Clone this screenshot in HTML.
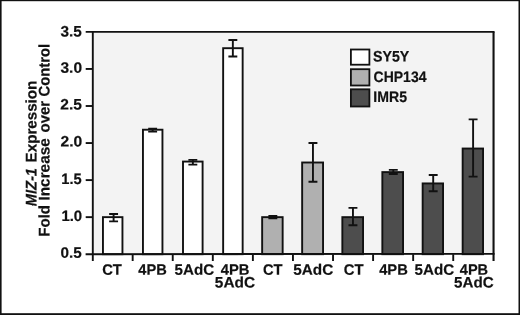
<!DOCTYPE html>
<html lang="en"><head><meta charset="utf-8"><title>MIZ-1 Expression</title>
<style>html,body{margin:0;padding:0;background:#fff;overflow:hidden}svg{display:block}text{font-family:"Liberation Sans", Arial, Helvetica, sans-serif;font-weight:bold;fill:#111;stroke:#111;stroke-width:0.20px}</style></head><body>
<svg width="520" height="315" viewBox="0 0 520 315">
<rect x="0" y="0" width="520" height="315" fill="#fff"/>
<rect x="0" y="0" width="520" height="1.2" fill="#111"/>
<rect x="0" y="313.2" width="520" height="1.8" fill="#111"/>
<rect x="0" y="0" width="1.6" height="315" fill="#111"/>
<rect x="518.5" y="0" width="1.5" height="315" fill="#111"/>
<rect x="92.80" y="31.90" width="400.75" height="222.30" fill="#f3f3f3"/>
<rect x="102.95" y="217.15" width="19.50" height="37.05" fill="#ffffff" stroke="#111" stroke-width="1.90"/>
<path d="M113.60 214.00V221.40M109.15 214.00H118.05M109.15 221.40H118.05" stroke="#111" stroke-width="1.9" fill="none"/>
<rect x="142.95" y="129.71" width="19.50" height="124.49" fill="#ffffff" stroke="#111" stroke-width="1.90"/>
<path d="M152.65 128.80V131.60M148.20 128.80H157.10M148.20 131.60H157.10" stroke="#111" stroke-width="1.9" fill="none"/>
<rect x="183.00" y="161.57" width="19.60" height="92.62" fill="#ffffff" stroke="#111" stroke-width="1.90"/>
<path d="M192.85 159.90V164.60M188.40 159.90H197.30M188.40 164.60H197.30" stroke="#111" stroke-width="1.9" fill="none"/>
<rect x="223.15" y="48.20" width="19.50" height="206.00" fill="#ffffff" stroke="#111" stroke-width="1.90"/>
<path d="M232.85 40.00V56.50M228.40 40.00H237.30M228.40 56.50H237.30" stroke="#111" stroke-width="1.9" fill="none"/>
<rect x="262.15" y="217.15" width="20.50" height="37.05" fill="#b0b0b0" stroke="#111" stroke-width="1.90"/>
<path d="M272.85 216.00V218.20M268.40 216.00H277.30M268.40 218.20H277.30" stroke="#111" stroke-width="1.9" fill="none"/>
<rect x="302.15" y="162.50" width="20.90" height="91.70" fill="#b0b0b0" stroke="#111" stroke-width="1.90"/>
<path d="M312.95 143.00V181.80M308.50 143.00H317.40M308.50 181.80H317.40" stroke="#111" stroke-width="1.9" fill="none"/>
<rect x="342.35" y="217.15" width="20.70" height="37.05" fill="#4d4d4d" stroke="#111" stroke-width="1.90"/>
<path d="M352.95 207.90V225.30M348.50 207.90H357.40M348.50 225.30H357.40" stroke="#111" stroke-width="1.9" fill="none"/>
<rect x="382.35" y="172.10" width="20.70" height="82.10" fill="#4d4d4d" stroke="#111" stroke-width="1.90"/>
<path d="M393.30 169.90V174.00M388.85 169.90H397.75M388.85 174.00H397.75" stroke="#111" stroke-width="1.9" fill="none"/>
<rect x="422.65" y="183.43" width="20.40" height="70.77" fill="#4d4d4d" stroke="#111" stroke-width="1.90"/>
<path d="M433.20 175.00V191.20M428.75 175.00H437.65M428.75 191.20H437.65" stroke="#111" stroke-width="1.9" fill="none"/>
<rect x="462.65" y="148.53" width="20.40" height="105.67" fill="#4d4d4d" stroke="#111" stroke-width="1.90"/>
<path d="M473.10 119.40V176.60M468.65 119.40H477.55M468.65 176.60H477.55" stroke="#111" stroke-width="1.9" fill="none"/>
<path d="M85.70 31.90H494.55" stroke="#111" stroke-width="1.9" fill="none"/>
<path d="M493.55 31.90V261.00" stroke="#111" stroke-width="2.1" fill="none"/>
<path d="M92.80 31.90V261.00" stroke="#111" stroke-width="1.9" fill="none"/>
<path d="M85.60 254.20L494.55 253.85" stroke="#111" stroke-width="1.9" fill="none"/>
<path d="M85.7 217.15H92.80" stroke="#111" stroke-width="1.9"/>
<path d="M85.7 180.10H92.80" stroke="#111" stroke-width="1.9"/>
<path d="M85.7 143.05H92.80" stroke="#111" stroke-width="1.9"/>
<path d="M85.7 106.00H92.80" stroke="#111" stroke-width="1.9"/>
<path d="M85.7 68.95H92.80" stroke="#111" stroke-width="1.9"/>
<path d="M132.67 254.20V261.0" stroke="#111" stroke-width="1.9"/>
<path d="M172.74 254.20V261.0" stroke="#111" stroke-width="1.9"/>
<path d="M212.81 254.20V261.0" stroke="#111" stroke-width="1.9"/>
<path d="M252.88 254.20V261.0" stroke="#111" stroke-width="1.9"/>
<path d="M292.95 254.20V261.0" stroke="#111" stroke-width="1.9"/>
<path d="M333.02 254.20V261.0" stroke="#111" stroke-width="1.9"/>
<path d="M373.09 254.20V261.0" stroke="#111" stroke-width="1.9"/>
<path d="M413.16 254.20V261.0" stroke="#111" stroke-width="1.9"/>
<path d="M453.23 254.20V261.0" stroke="#111" stroke-width="1.9"/>
<rect x="350.90" y="49.50" width="18.50" height="15.20" fill="#ffffff" stroke="#111" stroke-width="1.8"/>
<rect x="350.90" y="69.20" width="18.50" height="16.30" fill="#b0b0b0" stroke="#111" stroke-width="1.8"/>
<rect x="350.90" y="89.30" width="18.50" height="17.20" fill="#4d4d4d" stroke="#111" stroke-width="1.8"/>
<text transform="rotate(0.03 71.21 257.70)" x="60.62" y="257.70" font-size="15.10" textLength="21.18" lengthAdjust="spacingAndGlyphs">0.5</text>
<text transform="rotate(0.03 71.76 221.10)" x="61.38" y="221.10" font-size="15.10" textLength="20.78" lengthAdjust="spacingAndGlyphs">1.0</text>
<text transform="rotate(0.03 71.53 183.90)" x="61.34" y="183.90" font-size="15.10" textLength="20.39" lengthAdjust="spacingAndGlyphs">1.5</text>
<text transform="rotate(0.03 71.31 146.50)" x="60.45" y="146.50" font-size="15.10" textLength="21.72" lengthAdjust="spacingAndGlyphs">2.0</text>
<text transform="rotate(0.03 71.18 109.50)" x="60.39" y="109.50" font-size="15.10" textLength="21.58" lengthAdjust="spacingAndGlyphs">2.5</text>
<text transform="rotate(0.03 71.28 72.70)" x="60.52" y="72.70" font-size="15.10" textLength="21.51" lengthAdjust="spacingAndGlyphs">3.0</text>
<text transform="rotate(0.03 71.14 36.40)" x="60.48" y="36.40" font-size="15.10" textLength="21.32" lengthAdjust="spacingAndGlyphs">3.5</text>
<text transform="rotate(0.03 112.00 274.65)" x="102.16" y="274.65" font-size="15.10" textLength="19.67" lengthAdjust="spacingAndGlyphs">CT</text>
<text transform="rotate(0.03 152.53 274.65)" x="138.30" y="274.65" font-size="15.10" textLength="28.46" lengthAdjust="spacingAndGlyphs">4PB</text>
<text transform="rotate(0.03 194.32 274.65)" x="174.54" y="274.65" font-size="15.10" textLength="39.55" lengthAdjust="spacingAndGlyphs">5AdC</text>
<text transform="rotate(0.03 235.06 274.65)" x="220.69" y="274.65" font-size="15.10" textLength="28.72" lengthAdjust="spacingAndGlyphs">4PB</text>
<text transform="rotate(0.03 272.70 274.65)" x="262.91" y="274.65" font-size="15.10" textLength="19.58" lengthAdjust="spacingAndGlyphs">CT</text>
<text transform="rotate(0.03 313.23 274.65)" x="293.24" y="274.65" font-size="15.10" textLength="39.99" lengthAdjust="spacingAndGlyphs">5AdC</text>
<text transform="rotate(0.03 353.75 274.65)" x="343.86" y="274.65" font-size="15.10" textLength="19.77" lengthAdjust="spacingAndGlyphs">CT</text>
<text transform="rotate(0.03 393.46 274.65)" x="379.13" y="274.65" font-size="15.10" textLength="28.66" lengthAdjust="spacingAndGlyphs">4PB</text>
<text transform="rotate(0.03 434.32 274.65)" x="414.54" y="274.65" font-size="15.10" textLength="39.55" lengthAdjust="spacingAndGlyphs">5AdC</text>
<text transform="rotate(0.03 473.96 274.65)" x="459.79" y="274.65" font-size="15.10" textLength="28.35" lengthAdjust="spacingAndGlyphs">4PB</text>
<text transform="rotate(0.03 234.99 287.50)" x="214.87" y="287.50" font-size="15.10" textLength="40.23" lengthAdjust="spacingAndGlyphs">5AdC</text>
<text transform="rotate(0.03 473.83 287.50)" x="454.05" y="287.50" font-size="15.10" textLength="39.56" lengthAdjust="spacingAndGlyphs">5AdC</text>
<text transform="rotate(0.03 391.12 61.40)" x="372.99" y="61.40" font-size="15.10" textLength="36.25" lengthAdjust="spacingAndGlyphs">SY5Y</text>
<text transform="rotate(0.03 400.04 81.65)" x="373.61" y="81.65" font-size="15.10" textLength="52.85" lengthAdjust="spacingAndGlyphs">CHP134</text>
<text transform="rotate(0.03 390.18 101.55)" x="373.36" y="101.55" font-size="15.10" textLength="33.63" lengthAdjust="spacingAndGlyphs">IMR5</text>
<text transform="translate(36.40 206.17) rotate(-89.96)" font-size="15.40" textLength="38.13" lengthAdjust="spacingAndGlyphs"><tspan font-style="italic">MIZ-1</tspan></text>
<text transform="translate(36.40 162.39) rotate(-89.96)" font-size="15.40" textLength="81.75" lengthAdjust="spacingAndGlyphs">Expression</text>
<text transform="translate(49.40 236.71) rotate(-89.96)" font-size="15.40" textLength="31.70" lengthAdjust="spacingAndGlyphs">Fold</text>
<text transform="translate(49.40 200.50) rotate(-89.96)" font-size="15.40" textLength="62.20" lengthAdjust="spacingAndGlyphs">Increase</text>
<text transform="translate(49.40 132.39) rotate(-89.96)" font-size="15.40" textLength="31.56" lengthAdjust="spacingAndGlyphs">over</text>
<text transform="translate(49.40 96.54) rotate(-89.96)" font-size="15.40" textLength="52.73" lengthAdjust="spacingAndGlyphs">Control</text>
</svg></body></html>
